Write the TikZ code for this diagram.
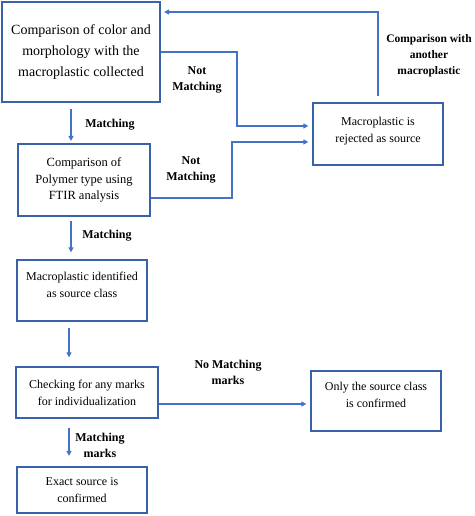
\documentclass[tikz,border=0pt]{standalone}
\usepackage{fontspec}
\setmainfont{Liberation Serif}
\usetikzlibrary{arrows.meta,calc}
\definecolor{boxc}{RGB}{58,98,168}
\definecolor{arrc}{RGB}{68,114,196}
\tikzset{
  box/.style={draw=boxc,line width=1.3pt,fill=white,align=center,inner sep=2pt,
    font=\fontsize{12}{17}\selectfont},
  thickbox/.style={box,line width=2.2pt},
  arr/.style={draw=arrc,line width=1.3pt,-{Triangle[length=5pt,width=5pt]}},
  lbl/.style={align=center,font=\bfseries\fontsize{12}{16}\selectfont}
}
\begin{document}
\begin{tikzpicture}[x=1pt,y=-1pt]
\useasboundingbox (0,0) rectangle (474,516);
\node[thickbox,minimum width=158pt,minimum height=100pt,font=\fontsize{14}{21}\selectfont] (b1) at (81,52)
  {Comparison of color and\\morphology with the\\macroplastic collected};
\node[box,minimum width=130pt,minimum height=62pt,text depth=8pt] (rej) at (378,134)
  {Macroplastic is\\rejected as source};
\node[thickbox,minimum width=132pt,minimum height=72pt,font=\fontsize{12.5}{16.5}\selectfont] (b2) at (84,180)
  {Comparison of\\Polymer type using\\FTIR analysis};
\node[box,minimum width=130pt,minimum height=61pt,text depth=11pt] (b3) at (82,290.5)
  {Macroplastic identified\\as source class};
\node[box,minimum width=142pt,minimum height=51pt] (b4) at (87,392.5)
  {Checking for any marks\\for individualization};
\node[box,minimum width=130pt,minimum height=60pt,text depth=13pt] (b5) at (376,401)
  {Only the source class\\is confirmed};
\node[thickbox,minimum width=130pt,minimum height=46pt] (b6) at (82,490)
  {Exact source is\\confirmed};

% connectors
\draw[arr] ([xshift=-10pt,yshift=-6pt]b1.south) -- ([xshift=-13pt,yshift=2pt]b2.north);
\draw[arr] (b1.east) -- ++(76,0) |- ([xshift=-4pt,yshift=8pt]rej.west);
\draw[arr] ([yshift=-18pt]b2.east) -- ++(81,0) |- ([xshift=-4pt,yshift=-8pt]rej.west);
\draw[arr] ([yshift=6pt]rej.north) |- ([xshift=3pt,yshift=40pt]b1.east);
\draw[arr] ([xshift=-13pt,yshift=-4pt]b2.south) -- ([xshift=-11pt,yshift=7pt]b3.north);
\draw[arr] ([xshift=-13pt,yshift=-6pt]b3.south) -- ([xshift=-18pt,yshift=9pt]b4.north);
\draw[arr] ([yshift=-11.5pt]b4.east) -- ([xshift=-4pt,yshift=-3pt]b5.west);
\draw[arr] ([xshift=-18pt,yshift=-9pt]b4.south) -- ([xshift=-13pt,yshift=10pt]b6.north);

% labels
\node[lbl] (l1) at (197,80) {Not\\Matching};
\node[lbl] (l2) at (191,170) {Not\\Matching};
\node[lbl,font=\bfseries\fontsize{11.5}{16}\selectfont] (l3) at (429,56) {Comparison with\\another\\macroplastic};
\node[lbl] (l4) at (110,125) {Matching};
\node[lbl] (l5) at (107,236) {Matching};
\node[lbl] (l6) at (228,372) {No Matching\\marks};
\node[lbl] (l7) at (100,445) {Matching\\marks};
\end{tikzpicture}
\end{document}
